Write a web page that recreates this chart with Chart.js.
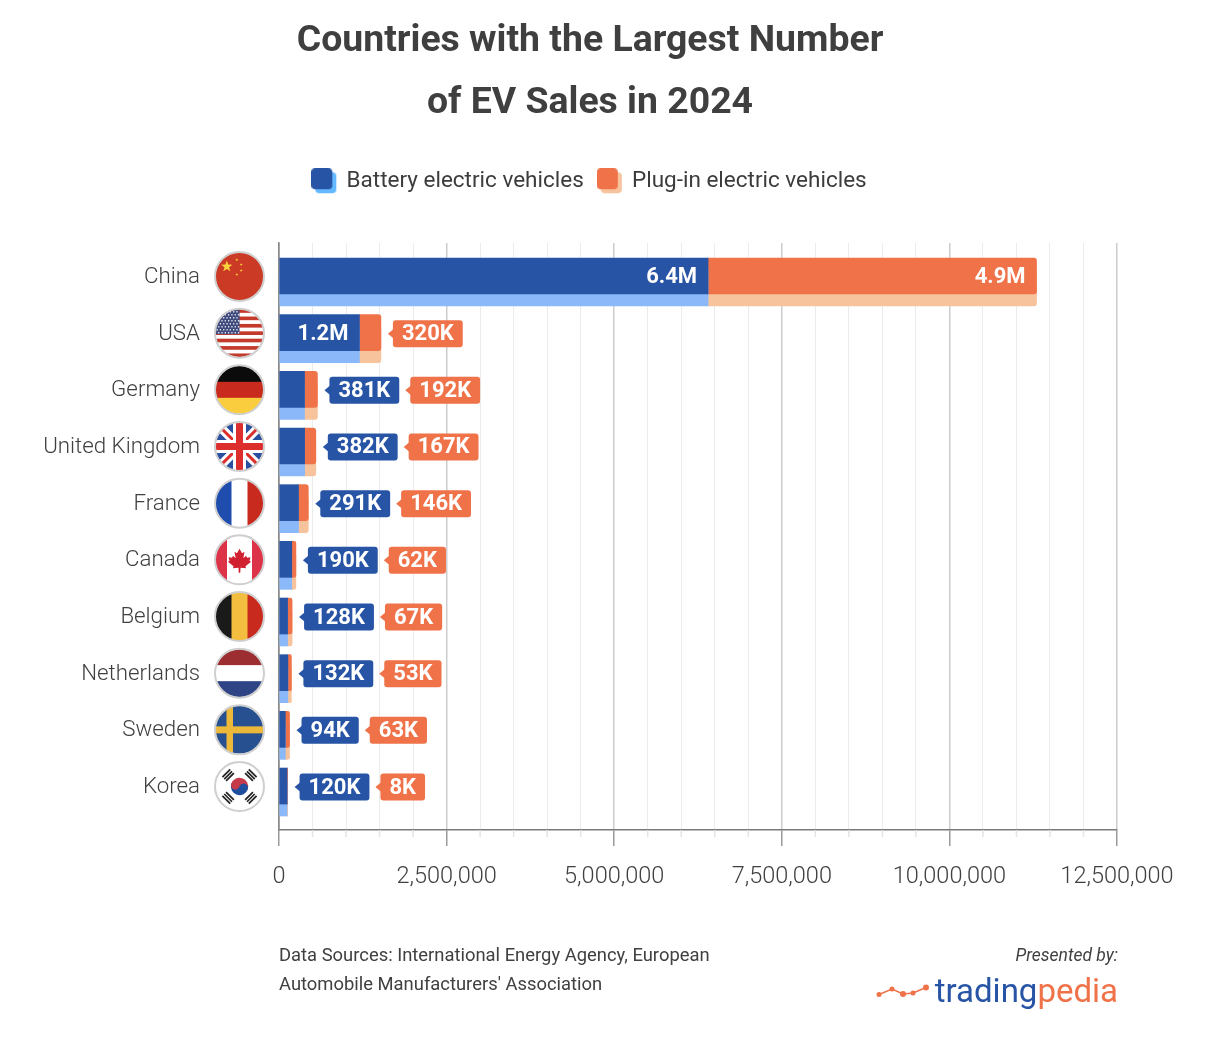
<!DOCTYPE html>
<html>
<head>
<meta charset="utf-8">
<title>Countries with the Largest Number of EV Sales in 2024</title>
<script src="https://cdn.jsdelivr.net/npm/chart.js@4"></script>
<style>
  html, body { margin: 0; background: #fff; }
  canvas { display: block; }
</style>
</head>
<body>
<canvas id="evChart" width="1220" height="1052"></canvas>
<script>
const categories = ["China", "USA", "Germany", "United Kingdom", "France", "Canada", "Belgium", "Netherlands", "Sweden", "Korea"];
const batterySales = [6400000, 1200000, 381000, 382000, 291000, 190000, 128000, 132000, 94000, 120000];
const pluginSales = [4900000, 320000, 192000, 167000, 146000, 62000, 67000, 53000, 63000, 8000];
const seriesNames = ["Battery electric vehicles", "Plug-in electric vehicles"];
const titleLines = ["Countries with the Largest Number", "of EV Sales in 2024"];
const sourceLines = ["Data Sources: International Energy Agency, European", "Automobile Manufacturers' Association"];

const FONT = "Roboto, sans-serif";
const TEXT = "#404040";
const BLUE = "#2754a5";
const BLUE_SHADE = "#8ab8f8";
const ORANGE = "#ef7249";
const ORANGE_SHADE = "#f6c39d";
const MAJOR_STEP = 2500000;

function roundedBox(ctx, x, y, w, h, r) {
  ctx.beginPath();
  ctx.roundRect(x, y, w, h, r);
}

// legend swatch: a square with its lighter copy peeking out behind it
function makeSwatch(front, back) {
  let c = document.createElement("canvas");
  c.width = 26;
  c.height = 26;
  let ctx = c.getContext("2d");
  ctx.fillStyle = back;
  roundedBox(ctx, 4, 4, 21, 21, 4);
  ctx.fill();
  ctx.fillStyle = front;
  roundedBox(ctx, 0, 0, 21, 21, 4);
  ctx.fill();
  return c;
}
const swatches = [makeSwatch(BLUE, "#63b8ff"), makeSwatch(ORANGE, ORANGE_SHADE)];

function formatSales(v) {
  if (v >= 1000000) return (v / 1000000).toFixed(1) + "M";
  return Math.round(v / 1000) + "K";
}

function stripes(ctx, colors) {
  let h = 48 / colors.length;
  colors.forEach((col, i) => {
    ctx.fillStyle = col;
    ctx.fillRect(-25, -24 + i * h, 50, h + 0.5);
  });
}

function columns(ctx, colors) {
  let w = 48 / colors.length;
  colors.forEach((col, i) => {
    ctx.fillStyle = col;
    ctx.fillRect(-24 + i * w, -25, w + 0.5, 50);
  });
}

function star(ctx, x, y, r) {
  ctx.beginPath();
  for (let i = 0; i < 10; i++) {
    let a = -Math.PI / 2 + i * Math.PI / 5;
    let d = i % 2 ? r * 0.4 : r;
    ctx.lineTo(x + Math.cos(a) * d, y + Math.sin(a) * d);
  }
  ctx.closePath();
  ctx.fill();
}

function polygon(ctx, pts) {
  ctx.beginPath();
  pts.forEach(p => ctx.lineTo(p[0], p[1]));
  ctx.closePath();
  ctx.fill();
}

// flags are drawn around 0,0 on a circle of radius 24
const flags = {
  China(ctx) {
    ctx.fillStyle = "#cb3a24";
    ctx.fillRect(-25, -25, 50, 50);
    ctx.fillStyle = "#f8d33c";
    star(ctx, -12.7, -10, 6);
    [[-2.7, -16.7], [1.7, -12], [1.7, -6], [-2.7, -2]].forEach(p => star(ctx, p[0], p[1], 1.6));
  },
  USA(ctx) {
    let s = [];
    for (let i = 0; i < 13; i++) s.push(i % 2 ? "#ffffff" : "#c43b2e");
    stripes(ctx, s);
    ctx.fillStyle = "#3e4a7d";
    ctx.fillRect(-25, -25, 25, 26);
    ctx.fillStyle = "#ffffff";
    for (let row = 0; row < 8; row++) {
      for (let col = 0; col < 7; col++) {
        ctx.fillRect(-23 + col * 3.3 + (row % 2) * 1.6, -22 + row * 3, 1.3, 1.3);
      }
    }
  },
  Germany(ctx) { stripes(ctx, ["#0b0b0b", "#c92a1e", "#f9cd3e"]); },
  "United Kingdom"(ctx) {
    ctx.fillStyle = "#2a4f9f";
    ctx.fillRect(-25, -25, 50, 50);
    ctx.lineCap = "butt";
    [["#ffffff", 9], ["#dd2e2e", 3]].forEach(d => {
      ctx.strokeStyle = d[0];
      ctx.lineWidth = d[1];
      ctx.beginPath();
      ctx.moveTo(-25, -25); ctx.lineTo(25, 25);
      ctx.moveTo(25, -25); ctx.lineTo(-25, 25);
      ctx.stroke();
    });
    ctx.fillStyle = "#ffffff";
    ctx.fillRect(-25, -6.5, 50, 13);
    ctx.fillRect(-6.5, -25, 13, 50);
    ctx.fillStyle = "#dd2e2e";
    ctx.fillRect(-25, -3.5, 50, 7);
    ctx.fillRect(-3.5, -25, 7, 50);
  },
  France(ctx) { columns(ctx, ["#1e4dae", "#ffffff", "#c92a1e"]); },
  Canada(ctx) {
    columns(ctx, ["#dc3349", "#ffffff", "#dc3349"]);
    ctx.fillStyle = "#ffffff";
    ctx.fillRect(-12.5, -25, 25, 50);
    ctx.fillStyle = "#d1202f";
    polygon(ctx, [[0, -11], [-2.5, -6.5], [-5, -8], [-3.8, -1.5], [-6.5, -4], [-7.5, -2], [-11, -2.5], [-10, 1], [-11.5, 2],
      [-6, 6.5], [-6.5, 8.5], [-1, 7.8], [-0.8, 13], [0.8, 13], [1, 7.8], [6.5, 8.5], [6, 6.5], [11.5, 2], [10, 1], [11, -2.5],
      [7.5, -2], [6.5, -4], [3.8, -1.5], [5, -8], [2.5, -6.5]]);
  },
  Belgium(ctx) { columns(ctx, ["#1a1a1a", "#f3bd3f", "#c92a1e"]); },
  Netherlands(ctx) { stripes(ctx, ["#9c2d30", "#ffffff", "#2e4484"]); },
  Sweden(ctx) {
    ctx.fillStyle = "#26508f";
    ctx.fillRect(-25, -25, 50, 50);
    ctx.fillStyle = "#ecb83a";
    ctx.fillRect(-13, -25, 6.5, 50);
    ctx.fillRect(-25, -3.5, 50, 7);
  },
  Korea(ctx) {
    ctx.fillStyle = "#ffffff";
    ctx.fillRect(-25, -25, 50, 50);
    ctx.save();
    ctx.rotate(0.3);
    ctx.fillStyle = "#c73a4a";
    ctx.beginPath(); ctx.arc(0, 0, 8.7, Math.PI, 0); ctx.fill();
    ctx.fillStyle = "#1f4e9e";
    ctx.beginPath(); ctx.arc(0, 0, 8.7, 0, Math.PI); ctx.fill();
    ctx.fillStyle = "#c73a4a";
    ctx.beginPath(); ctx.arc(-4.35, 0, 4.35, 0, Math.PI * 2); ctx.fill();
    ctx.fillStyle = "#1f4e9e";
    ctx.beginPath(); ctx.arc(4.35, 0, 4.35, 0, Math.PI * 2); ctx.fill();
    ctx.restore();
    // the four trigrams
    ctx.fillStyle = "#222222";
    [-0.785, 0.785, 2.356, 3.927].forEach(a => {
      ctx.save();
      ctx.rotate(a);
      for (let i = 0; i < 3; i++) ctx.fillRect(-5.5, -19.5 + i * 2.6, 11, 1.7);
      ctx.restore();
    });
  }
};

// the lighter edge under each bar is the bar's own canvas shadow
const barShade = {
  id: "barShade",
  beforeInit(chart) {
    let fit = chart.legend.fit;
    chart.legend.fit = function() {
      fit.call(this);
      this.height = 88;
    };
  },
  beforeDatasetDraw(chart, args) {
    let ctx = chart.ctx;
    ctx.save();
    ctx.shadowColor = chart.data.datasets[args.index].shade;
    ctx.shadowOffsetY = 12;
    ctx.shadowBlur = 0;
  },
  afterDatasetDraw(chart) {
    chart.ctx.restore();
  }
};

// small tag with a pointer on its left side; returns where the tag ends
function drawTag(ctx, text, tipX, y, color) {
  ctx.font = "700 22px " + FONT;
  let w = ctx.measureText(text).width + 18;
  let left = tipX + 5;
  ctx.fillStyle = color;
  roundedBox(ctx, left, y - 13.5, w, 27, 3);
  ctx.fill();
  polygon(ctx, [[tipX, y], [left + 1, y - 5], [left + 1, y + 5]]);
  ctx.fillStyle = "#ffffff";
  ctx.textAlign = "center";
  ctx.fillText(text, left + w / 2, y + 1);
  return left + w;
}

const valueLabels = {
  id: "valueLabels",
  afterDatasetsDraw(chart) {
    let ctx = chart.ctx;
    let blue = chart.getDatasetMeta(0).data;
    let orange = chart.getDatasetMeta(1).data;
    ctx.save();
    ctx.textBaseline = "middle";
    categories.forEach((name, i) => {
      let y = blue[i].y + 1;
      let next = orange[i].x + 7;
      [[batterySales[i], blue[i], BLUE], [pluginSales[i], orange[i], ORANGE]].forEach(s => {
        let text = formatSales(s[0]);
        if (s[0] >= 1000000) {
          // big enough to hold its label inside the bar
          ctx.font = "700 22px " + FONT;
          ctx.fillStyle = "#ffffff";
          ctx.textAlign = "right";
          ctx.fillText(text, s[1].x - 11, y + 1);
        } else {
          next = drawTag(ctx, text, next, y, s[2]) + 6;
        }
      });
    });
    ctx.restore();
  }
};

const flagColumn = {
  id: "flagColumn",
  afterDraw(chart) {
    let ctx = chart.ctx;
    let yScale = chart.scales.y;
    categories.forEach((name, i) => {
      ctx.save();
      ctx.translate(239.5, yScale.getPixelForValue(i) + 0.5);
      ctx.save();
      ctx.beginPath();
      ctx.arc(0, 0, 24, 0, Math.PI * 2);
      ctx.clip();
      flags[name](ctx);
      ctx.restore();
      ctx.strokeStyle = "#cfcfcf";
      ctx.lineWidth = 2;
      ctx.beginPath();
      ctx.arc(0, 0, 24.5, 0, Math.PI * 2);
      ctx.stroke();
      ctx.restore();
    });
  }
};

// short ticks for the minor grid lines, under the x axis
const minorTicks = {
  id: "minorTicks",
  beforeDatasetsDraw(chart) {
    let ctx = chart.ctx;
    let x = chart.scales.x;
    ctx.save();
    ctx.strokeStyle = "#e4e4e4";
    ctx.lineWidth = 1.5;
    x.ticks.forEach(t => {
      if (t.value % MAJOR_STEP === 0) return;
      let px = x.getPixelForValue(t.value);
      ctx.beginPath();
      ctx.moveTo(px, chart.chartArea.bottom);
      ctx.lineTo(px, chart.chartArea.bottom + 7);
      ctx.stroke();
    });
    ctx.restore();
  }
};

const footer = {
  id: "footer",
  afterDraw(chart) {
    let ctx = chart.ctx;
    ctx.save();
    ctx.textBaseline = "alphabetic";
    ctx.fillStyle = TEXT;
    ctx.font = "400 18.4px " + FONT;
    ctx.textAlign = "left";
    sourceLines.forEach((line, i) => ctx.fillText(line, 279, 961 + i * 29));

    ctx.font = "italic 400 17.5px " + FONT;
    ctx.textAlign = "right";
    ctx.fillText("Presented by:", 1118, 961);

    // logo: word in two colours and a little line with dots
    ctx.font = "400 33px " + FONT;
    ctx.fillStyle = ORANGE;
    ctx.fillText("pedia", 1118, 1002);
    let pediaWidth = ctx.measureText("pedia").width;
    ctx.fillStyle = BLUE;
    ctx.fillText("trading", 1118 - pediaWidth, 1002);

    let dots = [[879, 994.5, 2.5], [892, 989, 2.5], [903, 994, 3], [913, 993, 2.5], [926, 987.5, 3]];
    ctx.strokeStyle = ORANGE;
    ctx.fillStyle = ORANGE;
    ctx.lineWidth = 1.5;
    ctx.beginPath();
    dots.forEach(d => ctx.lineTo(d[0], d[1]));
    ctx.stroke();
    dots.forEach(d => {
      ctx.beginPath();
      ctx.arc(d[0], d[1], d[2], 0, Math.PI * 2);
      ctx.fill();
    });
    ctx.restore();
  }
};

function makeData(values) {
  return values.map((v, i) => ({ x: v, y: i }));
}

function isMajor(v) {
  return v % MAJOR_STEP === 0;
}

new Chart(document.getElementById("evChart"), {
  type: "bar",
  data: {
    datasets: [
      {
        label: seriesNames[0],
        data: makeData(batterySales),
        backgroundColor: BLUE,
        shade: BLUE_SHADE,
        // only rounded where the orange part is too thin to see
        borderRadius: c => (pluginSales[c.dataIndex] < 20000 ? 4 : 0)
      },
      {
        label: seriesNames[1],
        data: makeData(pluginSales),
        backgroundColor: ORANGE,
        shade: ORANGE_SHADE,
        borderRadius: 3
      }
    ]
  },
  options: {
    indexAxis: "y",
    responsive: false,
    animation: false,
    barThickness: 36,
    layout: { padding: { right: 40 } },
    plugins: {
      title: {
        display: true,
        text: titleLines,
        color: "#3f3f3f",
        font: { family: FONT, size: 37.4, weight: "700", lineHeight: 62 / 37.4 },
        padding: { top: 11, bottom: 20 }
      },
      legend: {
        position: "top",
        labels: {
          usePointStyle: true,
          pointStyleWidth: 22,
          padding: 15,
          color: "#3c3c3c",
          font: { family: FONT, size: 22.5 },
          generateLabels(chart) {
            return Chart.defaults.plugins.legend.labels.generateLabels(chart).map((item, i) => {
              item.pointStyle = swatches[i];
              return item;
            });
          }
        }
      },
      tooltip: { enabled: false }
    },
    scales: {
      x: {
        type: "linear",
        stacked: true,
        min: 0,
        max: 12500000,
        afterFit(scale) {
          scale.height = 222;
          scale.paddingRight = 103;
          scale.paddingLeft = 0;
        },
        border: { display: true, color: "#7a7a7a", width: 1.5 },
        grid: {
          color: c => (isMajor(c.tick.value) ? (c.tick.value === 0 ? "#8a8a8a" : "#cdcdcd") : "#ececec"),
          lineWidth: c => (isMajor(c.tick.value) ? 1.5 : 1),
          tickColor: c => (isMajor(c.tick.value) ? "#9a9a9a" : "transparent"),
          tickLength: 16,
          tickWidth: 1.5
        },
        ticks: {
          stepSize: 500000,
          autoSkip: false,
          maxRotation: 0,
          padding: 17,
          color: TEXT,
          font: { family: FONT, size: 23.5, weight: "300" },
          callback: v => (isMajor(v) ? v.toLocaleString("en-US") : "")
        }
      },
      y: {
        type: "linear",
        stacked: true,
        reverse: true,
        offset: false,
        min: -0.582,
        max: 9.776,
        // one tick per country instead of the round numbers a linear axis would pick
        afterBuildTicks(scale) {
          scale.ticks = categories.map((name, i) => ({ value: i }));
        },
        afterFit(scale) {
          scale.width = 279;
        },
        border: { display: true, color: "#8a8a8a", width: 1.5 },
        grid: { display: false, drawTicks: false },
        ticks: {
          autoSkip: false,
          padding: 79,
          labelOffset: 1.5,
          color: TEXT,
          font: { family: FONT, size: 22.3, weight: "300" },
          callback: v => categories[v]
        }
      }
    }
  },
  plugins: [barShade, valueLabels, flagColumn, minorTicks, footer]
});
</script>
</body>
</html>
